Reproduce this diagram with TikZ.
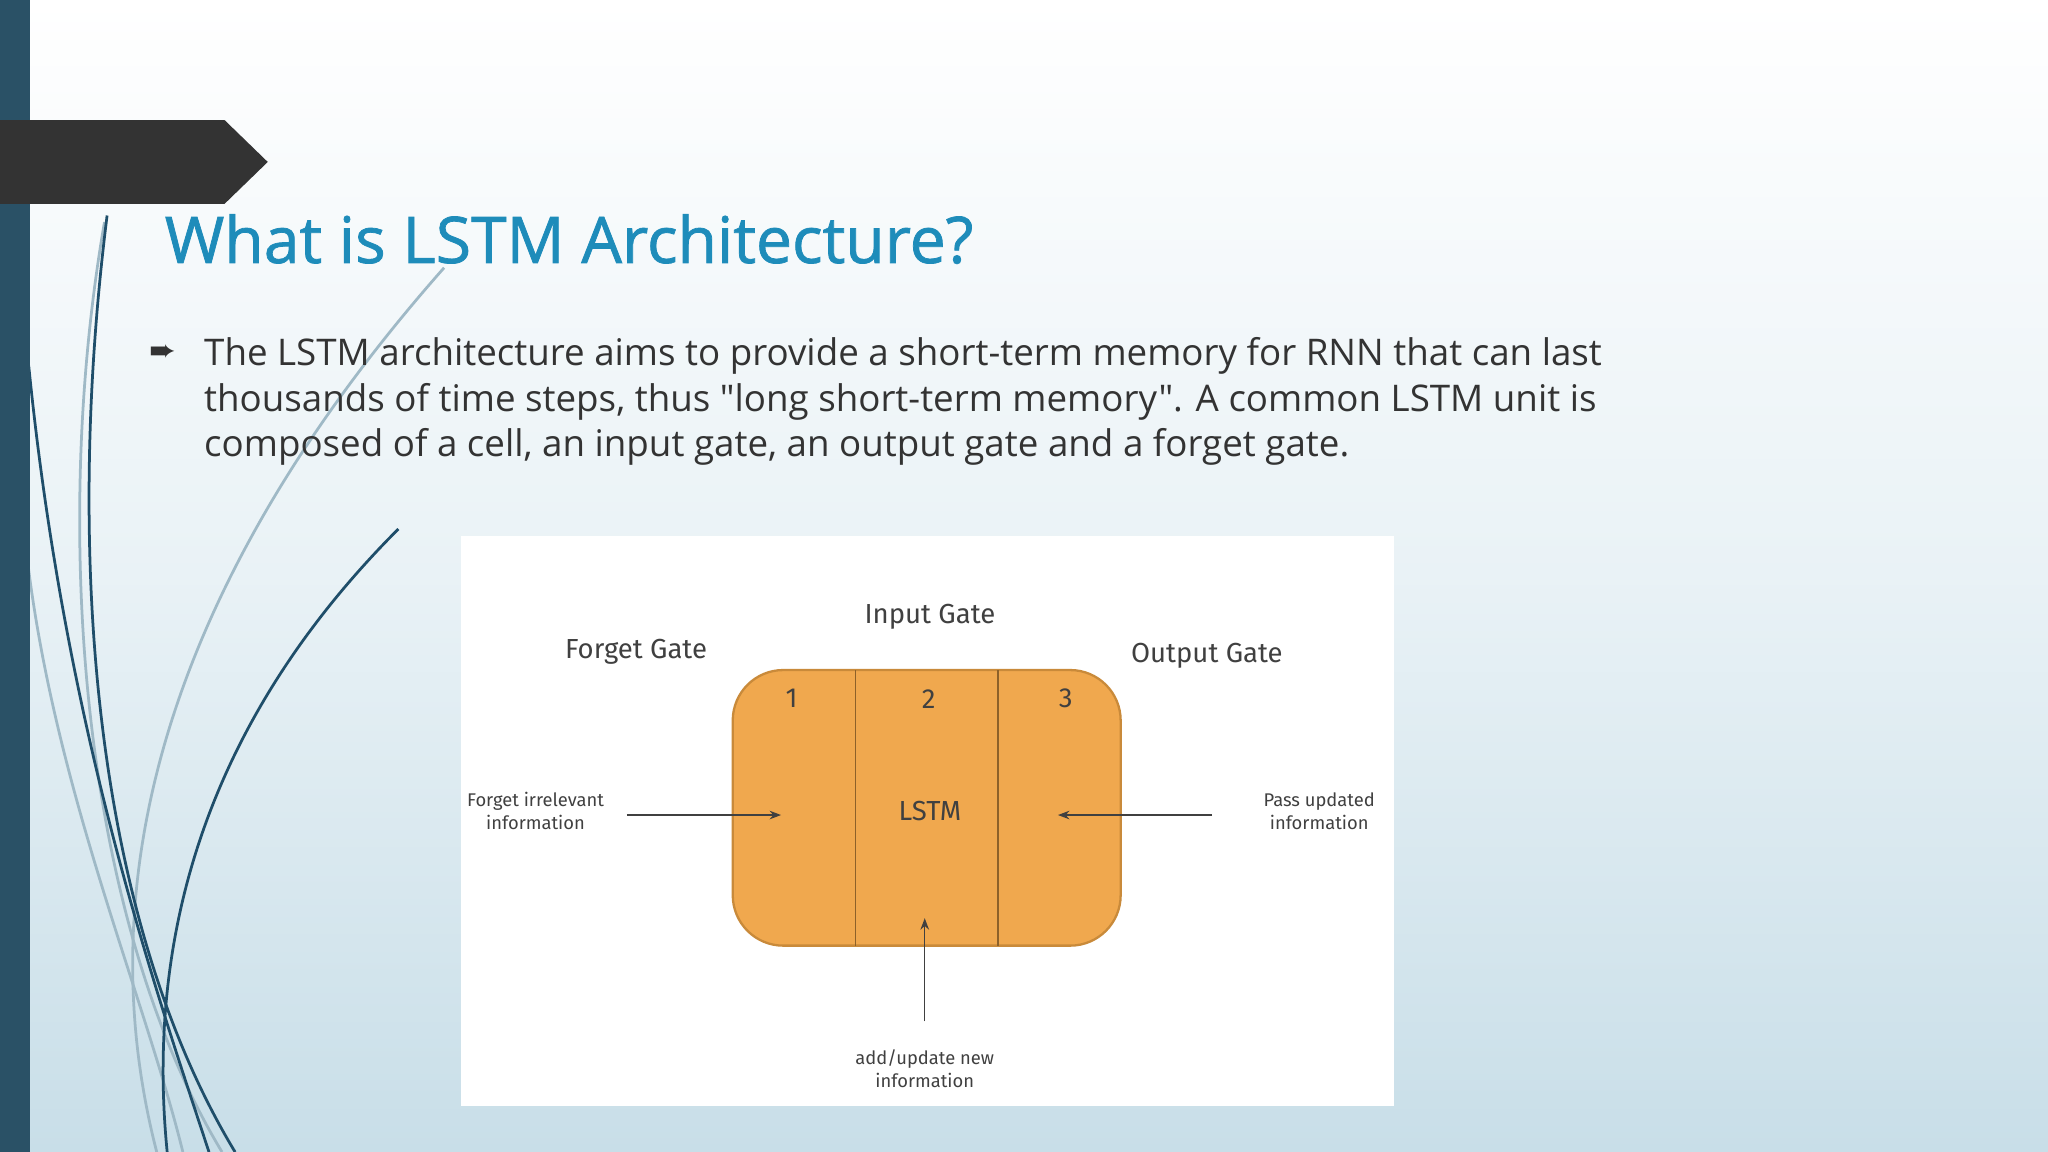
\documentclass[tikz,border=0pt]{standalone}
\usepackage{fontspec}
\setmainfont{Open Sans}[Ligatures=TeXOff]
\newfontfamily\figfont{Fira Sans}
\newfontfamily\symfont{DejaVu Sans}
\newfontfamily\titlefont[FakeBold=1.2]{Open Sans}
\usetikzlibrary{arrows.meta}
\definecolor{bgblue}{HTML}{C8DEE8}
\definecolor{barteal}{HTML}{2A5166}
\definecolor{titleblue}{HTML}{1E8CBA}
\definecolor{cellorange}{HTML}{F0A84E}
\definecolor{celledge}{HTML}{C98A3A}
\definecolor{curveA}{HTML}{1F4E6A}
\definecolor{curveB}{HTML}{9FB9C6}
\tikzset{
  lbl/.style={font=\figfont\fontsize{12}{14}\selectfont, text=black!75},
  small/.style={font=\figfont\fontsize{8}{10}\selectfont, text=black!75, align=center},
  arr/.style={-{Stealth[length=5pt]}, black!75, line width=0.6pt},
  curve/.style={line width=1.2pt}
}
\begin{document}
\begin{tikzpicture}[x=0.02cm,y=-0.02cm]
\useasboundingbox (0,0) rectangle (1568,882);
\shade[top color=white, bottom color=bgblue, middle color=white!60!bgblue] (0,0) rectangle (1568,882);
% curves
\draw[curve, curveB] (80,170) .. controls (40,400) and (60,700) .. (170,882);
\draw[curve, curveB] (340,205) .. controls (150,420) and (60,650) .. (120,882);
\draw[curve, curveB] (20,420) .. controls (40,600) and (110,760) .. (140,882);
\draw[curve, curveA] (82,165) .. controls (50,420) and (70,700) .. (180,882);
\draw[curve, curveA] (305,405) .. controls (170,540) and (110,700) .. (128,882);
\draw[curve, curveA] (22,280) .. controls (50,560) and (120,760) .. (160,882);
% left bar and tab
\fill[barteal] (0,0) rectangle (23,882);
\fill[black!80] (0,92) -- (172,92) -- (205,124) -- (172,156) -- (0,156) -- cycle;
% title and text
\node[anchor=west, text=titleblue, font=\titlefont\fontsize{28}{32}\selectfont] (title) at (120,183) {What is LSTM Architecture?};
\node[anchor=west, font=\symfont\fontsize{14}{16}\selectfont, text=black!80] (bul) at (108,270) {➨};
\node[anchor=north west, align=left, font=\fontsize{16}{19.9}\selectfont, text=black!80, inner sep=0] (body) at (156,258)
 {The LSTM architecture aims to provide a short-term memory for RNN that can last\\
  thousands of time steps, thus "long short-term memory". A common LSTM unit is\\
  composed of a cell, an input gate, an output gate and a forget gate.};
% figure
\fill[white] (353,410) rectangle (1067,847);
\draw[celledge, fill=cellorange, line width=1pt, rounded corners=22] (561,513) rectangle (858,724);
\draw[celledge!70!black, line width=0.8pt] (655,513) -- (655,724) (764,513) -- (764,724);
\node[lbl] (n1) at (606,535) {1};
\node[lbl] (n2) at (711,535) {2};
\node[lbl] (n3) at (816,535) {3};
\node[lbl] (lstm) at (712,621) {LSTM};
\node[lbl] (ig) at (712,472) {Input Gate};
\node[lbl] (fg) at (487,499) {Forget Gate};
\node[lbl] (og) at (924,502) {Output Gate};
\node[small] (fi) at (410,621) {Forget irrelevant\\information};
\node[small] (pu) at (1010,621) {Pass updated\\information};
\node[small] (au) at (708,818) {add/update new\\information};
\coordinate (fa) at (598,624);
\coordinate (pa) at (810,624);
\coordinate (aa) at (708,703);
\coordinate (fs) at (480,624);
\coordinate (ps) at (928,624);
\coordinate (as) at (708,782);
\draw[arr] (fs) -- (fa);
\draw[arr] (ps) -- (pa);
\draw[arr] (as) -- (aa);
\end{tikzpicture}
\end{document}
